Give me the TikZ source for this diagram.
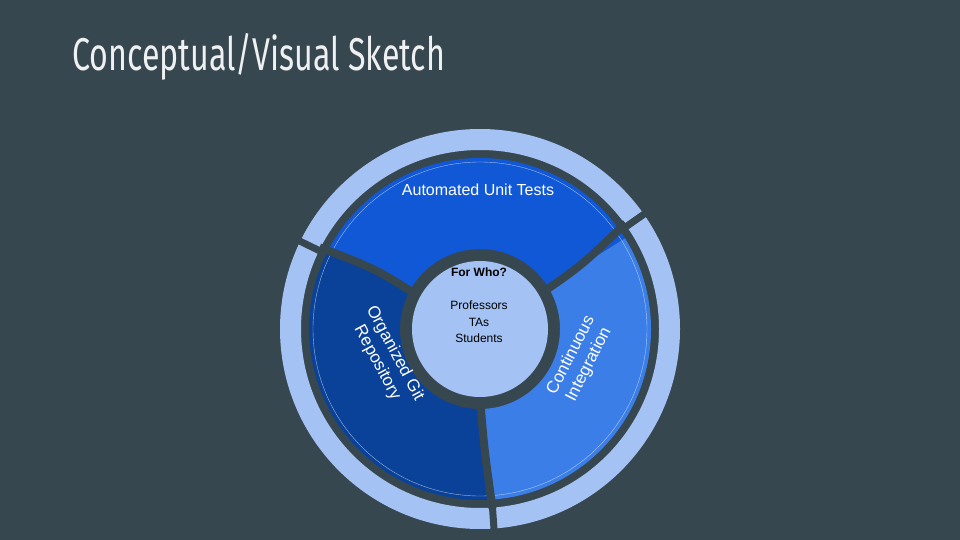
\documentclass[tikz,border=0pt]{standalone}
\usepackage{fontspec}
\usetikzlibrary{calc}
\setmainfont{Liberation Sans}
\newfontfamily\titlefont[FakeStretch=0.70]{Fira Sans}
\definecolor{bg}{HTML}{37474F}
\definecolor{light}{HTML}{A4C2F4}
\definecolor{topc}{HTML}{1158D6}
\definecolor{leftc}{HTML}{0A4299}
\definecolor{rightc}{HTML}{3B7EE8}
\tikzset{seglabel/.style={text=white,font=\fontsize{16}{16}\selectfont,align=center,inner sep=0pt},
divider/.style={draw=bg,line width=8pt},
ringgap/.style={draw=bg,line width=7pt}}
\begin{document}
\begin{tikzpicture}[x=1pt,y=1pt]
\fill[bg] (0,0) rectangle (960,-540);
\useasboundingbox (0,0) rectangle (960,-540);
\coordinate (C) at (480,-329);
% outer ring
\fill[light,even odd rule] (C) circle (200) (C) circle (179);
\draw[ringgap] ($(C)+(154:176)$) -- ($(C)+(154:203)$);
\draw[ringgap] ($(C)+(35:176)$) -- ($(C)+(35:203)$);
\draw[ringgap] ($(C)+(-86:176)$) -- ($(C)+(-86:203)$);
% segments
\fill[topc] ($(C)+(32:80)$) -- ($(C)+(32:171)$) arc (32:152:171) -- ($(C)+(152:80)$) arc (152:32:80) -- cycle;
\fill[rightc] ($(C)+(-87:80)$) -- ($(C)+(-87:171)$) arc (-87:32:171) -- ($(C)+(32:80)$) arc (32:-87:80) -- cycle;
\fill[leftc] ($(C)+(152:80)$) -- ($(C)+(152:171)$) arc (152:273:171) -- ($(C)+(273:80)$) arc (273:152:80) -- cycle;
\draw[white,line width=0.4pt,opacity=0.6] (C) circle (167);
\draw[divider] ($(C)+(152:68)$) .. controls ($(C)+(150:120)$) .. ($(C)+(153:180)$);
\draw[divider] ($(C)+(30:68)$) .. controls ($(C)+(32:120)$) .. ($(C)+(36:180)$);
\draw[divider] ($(C)+(-90:68)$) .. controls ($(C)+(-88:120)$) .. ($(C)+(-86:180)$);
% inner circle
\fill[light] (C) circle (68);
\node[circle,minimum size=136pt,inner sep=0pt] (hub) at (C) {};
\node[font=\bfseries\fontsize{12}{12}\selectfont,inner sep=0pt] (who) at (479,-272) {For Who?};
\node[font=\fontsize{12}{16.5}\selectfont,align=center,inner sep=0pt] (people) at (479,-322) {Professors\\TAs\\Students};
% labels
\node[seglabel] (aut) at (478,-190) {Automated Unit Tests};
\node[seglabel,rotate=-62,font=\fontsize{17}{20}\selectfont] (git) at (386,-358) {Organized Git\\Repository};
\node[seglabel,rotate=63,font=\fontsize{17}{20}\selectfont] (ci) at (580,-360) {Continuous\\Integration};
% title
\node[anchor=west,text=white!92!bg,font=\titlefont\fontsize{46}{46}\selectfont,inner sep=0pt] (title) at (72,-57) {Conceptual/Visual Sketch};
\end{tikzpicture}
\end{document}
